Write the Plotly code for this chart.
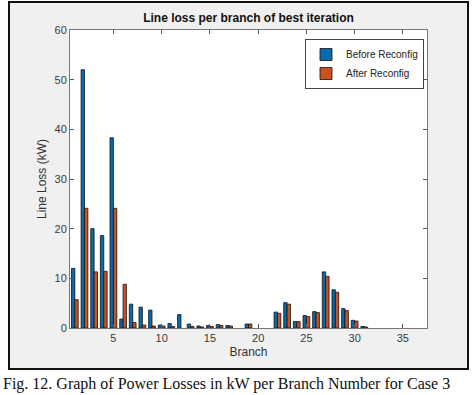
import plotly.graph_objects as go

branches = list(range(1, 38))
before = [12.0, 52.0, 20.0, 18.6, 38.3, 1.8, 4.8, 4.2, 3.6, 0.6, 0.9, 2.7, 0.8, 0.4,
          0.5, 0.7, 0.5, 0.0, 0.8, 0.0, 0.0, 3.2, 5.1, 1.3, 2.5, 3.3, 11.3, 7.7, 3.9,
          1.55, 0.3, 0, 0, 0, 0, 0, 0]
after = [5.7, 24.1, 11.3, 11.4, 24.1, 8.8, 1.1, 0.6, 0.4, 0.4, 0.3, 0.0, 0.3, 0.2,
         0.3, 0.5, 0.4, 0.0, 0.8, 0.0, 0.0, 2.95, 4.8, 1.3, 2.3, 3.1, 10.4, 7.2, 3.5,
         1.4, 0.2, 0, 0, 0, 0, 0, 0]

BLUE = "#0a6aae"
ORANGE = "#cc5220"

def hide_zero(vals):
    return [v if v > 0 else None for v in vals]

fig = go.Figure()
fig.add_trace(go.Bar(x=branches, y=hide_zero(before), name="Before Reconfig",
                     marker=dict(color=BLUE, line=dict(color="#111", width=0.8))))
fig.add_trace(go.Bar(x=branches, y=hide_zero(after), name="After Reconfig",
                     marker=dict(color=ORANGE, line=dict(color="#111", width=0.8))))

W, H = 474, 395
L, R, T, B = 70, 427, 30, 328
pw, ph = R - L, B - T

def px(x):
    return (x - L) / pw

def py(y):
    return (B - y) / ph

fig.update_layout(
    width=W, height=H,
    margin=dict(l=L, r=W - R, t=T, b=H - B),
    paper_bgcolor="white",
    plot_bgcolor="white",
    barmode="group", bargap=0.3, bargroupgap=0,
    font=dict(family="Liberation Sans, Arial", size=11, color="#3a3a3a"),
    title=dict(text="<b>Line loss per branch of best iteration</b>",
               x=(L + R) / 2 / W, xanchor="center", y=1 - 18 / H, yanchor="middle",
               font=dict(size=12, color="#111")),
    legend=dict(x=px(305), y=py(39), xanchor="left", yanchor="top",
                bgcolor="white", bordercolor="#444", borderwidth=1,
                font=dict(size=10, color="#222"), tracegroupgap=0),
    showlegend=True,
    shapes=[
        dict(type="rect", xref="paper", yref="paper", layer="below",
             x0=px(9), x1=px(468), y0=py(369), y1=py(2),
             fillcolor="#f0f0f0", line=dict(color="#111", width=2)),
        dict(type="rect", xref="paper", yref="paper", layer="below",
             x0=0, x1=1, y0=0, y1=1, fillcolor="white", line=dict(width=0)),
    ],
    annotations=[
        dict(text="Fig. 12. Graph of Power Losses in kW per Branch Number for Case 3",
             xref="paper", yref="paper", x=px(1), y=py(395), xanchor="left",
             yanchor="bottom", showarrow=False,
             font=dict(family="Liberation Serif, Times New Roman", size=16, color="#111")),
    ],
)

fig.update_xaxes(range=[0.5, 37.5], tickvals=[5, 10, 15, 20, 25, 30, 35],
                 ticks="inside", ticklen=4, tickcolor="#555", showline=True,
                 linecolor="#777", linewidth=1, mirror="ticks", showgrid=False,
                 zeroline=False, title=dict(text="Branch", font=dict(size=12, color="#333"),
                                            standoff=4))
fig.update_yaxes(range=[0, 60], tickvals=[0, 10, 20, 30, 40, 50, 60],
                 ticks="inside", ticklen=4, tickcolor="#555", showline=True,
                 linecolor="#777", linewidth=1, mirror="ticks", showgrid=False,
                 zeroline=False, title=dict(text="Line Loss (kW)", font=dict(size=12, color="#333"),
                                            standoff=5))

fig.write_html("out.html", config={"displayModeBar": False},
               post_script="document.body.style.margin='0';document.body.style.padding='0';")
